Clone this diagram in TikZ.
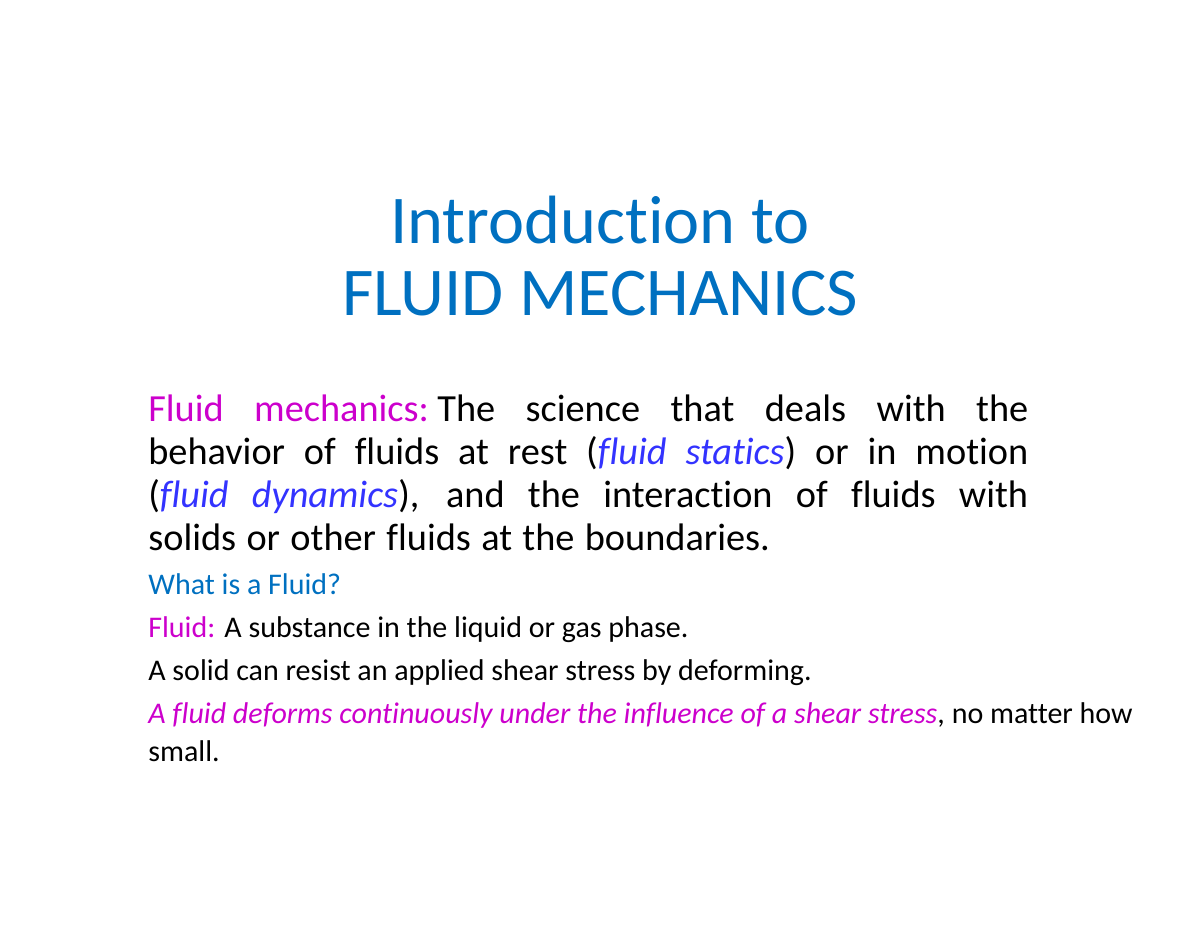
\documentclass[tikz,border=0pt]{standalone}
\usepackage{fontspec}
\setmainfont{Carlito}[Ligatures={NoCommon}]
\definecolor{ttl}{RGB}{0,112,192}
\definecolor{mag}{RGB}{204,0,204}
\definecolor{blu}{RGB}{51,51,255}
\begin{document}
\begin{tikzpicture}[x=0.6pt,y=-0.6pt]
\useasboundingbox (0,0) rectangle (1200,927);
\tikzset{txt/.style={inner sep=0pt,anchor=north west,align=left}}
\node[inner sep=0pt,text=ttl,font=\fontsize{41}{43.5}\selectfont,align=center] (t) at (600,256) {Introduction to\\FLUID MECHANICS};
\node[txt,text width=528pt] (p) at (148,395)
{\parbox{528pt}{\fontsize{23}{25.8}\selectfont\spaceskip=0.27em plus 1em
{\color{mag}Fluid mechanics:} The science that deals with the\linebreak
behavior of fluids at rest ({\color{blu}\itshape fluid statics}) or in motion\linebreak
({\color{blu}\itshape fluid dynamics}), and the interaction of fluids with\linebreak
solids or other fluids at the boundaries.}};
\node[txt,font=\fontsize{18}{20}\selectfont,text=ttl] (q) at (148,573) {What is a Fluid?};
\node[txt,font=\fontsize{18}{20}\selectfont] (f) at (148,616) {{\color{mag}Fluid:} A substance in the liquid or gas phase.};
\node[txt,font=\fontsize{18}{20}\selectfont] (s) at (148,659) {A solid can resist an applied shear stress by deforming.};
\node[txt,font=\fontsize{18}{23}\selectfont] (d) at (148,702) {{\color{mag}\itshape A fluid deforms continuously under the influence of a shear stress}, no matter how\\small.};
\end{tikzpicture}
\end{document}
